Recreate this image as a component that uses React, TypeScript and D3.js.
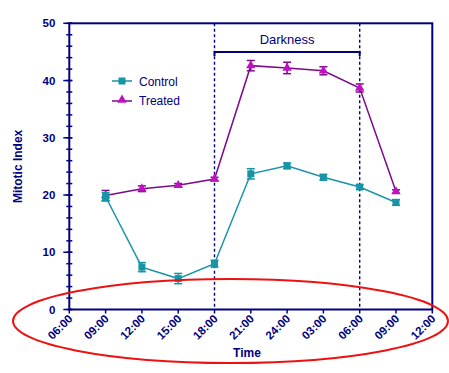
import React from "react";
import * as d3 from "d3";

const tickLabels = ["06:00","09:00","12:00","15:00","18:00","21:00","24:00","03:00","06:00","09:00","12:00"];
const hours = [3, 6, 9, 12, 15, 18, 21, 24, 27];
const controlValues = [19.7, 7.4, 5.4, 8.0, 23.7, 25.1, 23.1, 21.4, 18.7];
const controlErr = [0.7, 0.8, 0.9, 0.6, 0.9, 0.5, 0.5, 0.4, 0.5];
const treatedValues = [19.9, 21.1, 21.7, 22.8, 42.6, 42.2, 41.7, 38.7, 20.6];
const treatedErr = [0.9, 0.5, 0.3, 0.3, 0.9, 1.0, 0.7, 0.7, 0.3];
const yMajor = [0, 10, 20, 30, 40, 50];
const darkStart = 12;
const darkEnd = 24;

const NAVY = "#000080";
const CTRL = "#1795a6";
const TRT_LINE = "#7d0a8c";
const TRT_MARK = "#c010c0";

export default function App() {
  const x = d3.scaleLinear().domain([0, 30]).range([69.3, 432.3]);
  const y = d3.scaleLinear().domain([0, 50]).range([309.5, 23.3]);
  const minor = d3.range(0, 51, 2);
  const line = d3.line<number>().x((_, i) => x(hours[i])).y((d) => y(d));
  const tri = d3.symbol().type(d3.symbolTriangle).size(38)();
  const font = "Arial, 'Liberation Sans', sans-serif";

  return (
    <svg width={449} height={373} style={{ position: "absolute", left: 0, top: 0, background: "#fff" }}>
      {[darkStart, darkEnd].map((h, i) => (
        <line key={i} x1={x(h)} x2={x(h)} y1={y(50)} y2={y(0)} stroke={NAVY} strokeWidth={1.4} strokeDasharray="3,2.5" />
      ))}
      <path d={`M${x(darkStart)},${56}V${52}H${x(darkEnd)}V${56}`} fill="none" stroke={NAVY} strokeWidth={2} />
      <text x={(x(darkStart) + x(darkEnd)) / 2} y={44} textAnchor="middle" fontFamily={font} fontSize={13} fill={NAVY}>Darkness</text>

      <rect x={x(0)} y={y(50)} width={x(30) - x(0)} height={y(0) - y(50)} fill="none" stroke={NAVY} strokeWidth={2} />

      {minor.map((v) => (
        <line key={"m" + v} x1={x(0) - 3} x2={x(0) + 3} y1={y(v)} y2={y(v)} stroke={NAVY} strokeWidth={1.5} />
      ))}
      {yMajor.map((v) => (
        <g key={"M" + v}>
          <line x1={x(0) - 6} x2={x(0) + 3} y1={y(v)} y2={y(v)} stroke={NAVY} strokeWidth={1.5} />
          <text x={x(0) - 14} y={y(v) + 4} textAnchor="end" fontFamily={font} fontWeight="bold" fontSize={11.5} fill={NAVY}>{v}</text>
        </g>
      ))}
      {tickLabels.map((t, i) => {
        const px = x(i * 3);
        return (
          <g key={"x" + i}>
            <line x1={px} x2={px} y1={y(0)} y2={y(0) + 4} stroke={NAVY} strokeWidth={1.5} />
            <text transform={`translate(${px + 4},${y(0) + 10}) rotate(-45)`} textAnchor="end" fontFamily={font} fontWeight="bold" fontSize={11.5} fill={NAVY}>{t}</text>
          </g>
        );
      })}

      <text transform={`translate(22,${(y(0) + y(50)) / 2}) rotate(-90)`} textAnchor="middle" fontFamily={font} fontWeight="bold" fontSize={12} fill={NAVY}>Mitotic Index</text>
      <text x={247} y={357} textAnchor="middle" fontFamily={font} fontWeight="bold" fontSize={12} fill={NAVY}>Time</text>

      <path d={line(treatedValues) || ""} fill="none" stroke={TRT_LINE} strokeWidth={1.5} />
      {treatedValues.map((v, i) => {
        const px = x(hours[i]);
        const e = treatedErr[i];
        return (
          <g key={"t" + i}>
            <line x1={px} x2={px} y1={y(v + e)} y2={y(v - e)} stroke={TRT_LINE} strokeWidth={1.5} />
            <line x1={px - 4} x2={px + 4} y1={y(v + e)} y2={y(v + e)} stroke={TRT_LINE} strokeWidth={1.5} />
            <line x1={px - 4} x2={px + 4} y1={y(v - e)} y2={y(v - e)} stroke={TRT_LINE} strokeWidth={1.5} />
            <path d={tri || ""} transform={`translate(${px},${y(v)})`} fill={TRT_MARK} />
          </g>
        );
      })}

      <path d={line(controlValues) || ""} fill="none" stroke={CTRL} strokeWidth={1.5} />
      {controlValues.map((v, i) => {
        const px = x(hours[i]);
        const e = controlErr[i];
        return (
          <g key={"c" + i}>
            <line x1={px} x2={px} y1={y(v + e)} y2={y(v - e)} stroke={CTRL} strokeWidth={1.5} />
            <line x1={px - 4} x2={px + 4} y1={y(v + e)} y2={y(v + e)} stroke={CTRL} strokeWidth={1.5} />
            <line x1={px - 4} x2={px + 4} y1={y(v - e)} y2={y(v - e)} stroke={CTRL} strokeWidth={1.5} />
            <rect x={px - 3.5} y={y(v) - 3.5} width={7} height={7} fill={CTRL} />
          </g>
        );
      })}

      <line x1={112} x2={132} y1={81} y2={81} stroke={CTRL} strokeWidth={1.5} />
      <rect x={118.5} y={77.5} width={7} height={7} fill={CTRL} />
      <text x={139} y={85.5} fontFamily={font} fontSize={12} fill={NAVY}>Control</text>
      <line x1={112} x2={132} y1={101} y2={101} stroke={TRT_LINE} strokeWidth={1.5} />
      <path d={tri || ""} transform="translate(122,100)" fill={TRT_MARK} />
      <text x={139} y={105} fontFamily={font} fontSize={12} fill={NAVY}>Treated</text>

      <ellipse cx={230.5} cy={321} rx={217.5} ry={42} fill="none" stroke="#ee1111" strokeWidth={2} />
    </svg>
  );
}
